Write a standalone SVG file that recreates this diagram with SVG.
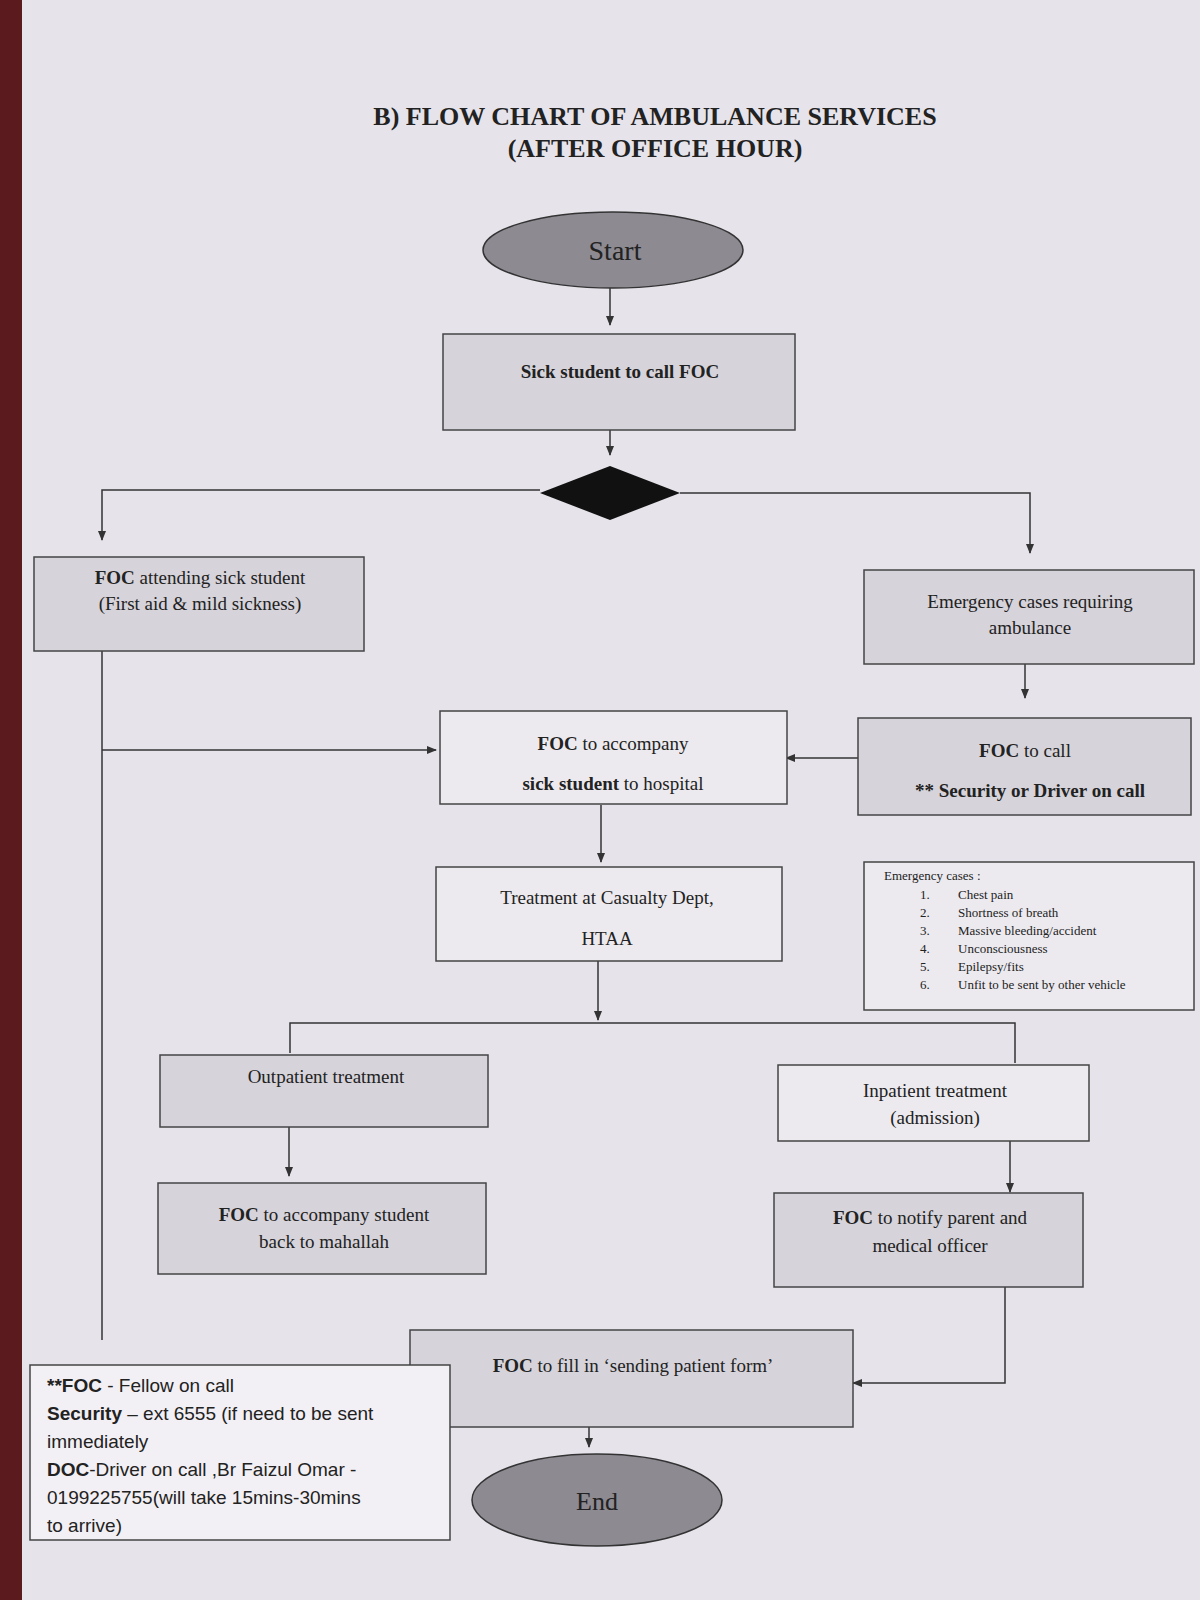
<svg xmlns="http://www.w3.org/2000/svg" width="1200" height="1600" viewBox="0 0 1200 1600">
<defs>
<marker id="ah" markerWidth="10" markerHeight="8" refX="9" refY="4" orient="auto" markerUnits="userSpaceOnUse"><path d="M0,0 L10,4 L0,8 z" fill="#333"/></marker>
<style>
.box{fill:#d6d3da;stroke:#444;stroke-width:1.5}
.wbox{fill:#eceaef;stroke:#444;stroke-width:1.5}
.ell{fill:#8d8a92;stroke:#333;stroke-width:1.5}
.t{font-family:"Liberation Serif",serif;font-size:19px;fill:#222;text-anchor:middle}
.b{font-weight:bold}
.s{font-family:"Liberation Serif",serif;font-size:13px;fill:#222}
.n{font-family:"Liberation Sans",sans-serif;font-size:19px;fill:#222}
.c{fill:none;stroke:#333;stroke-width:1.5}
</style>
</defs>
<rect width="1200" height="1600" fill="#e6e3ea"/>
<rect x="0" y="0" width="22" height="1600" fill="#5a1a1e"/>
<text class="t b" x="655" y="125" style="font-size:26px">B)  FLOW CHART OF AMBULANCE SERVICES</text>
<text class="t b" x="655" y="157" style="font-size:26px">(AFTER OFFICE HOUR)</text>
<g id="connectors">
<path class="c" d="M610,285 V325" marker-end="url(#ah)"/>
<path class="c" d="M610,421 V455" marker-end="url(#ah)"/>
<path class="c" d="M540,490 H102 V540" marker-end="url(#ah)"/>
<path class="c" d="M680,493 H1030 V553" marker-end="url(#ah)"/>
<path class="c" d="M1025,652 V698" marker-end="url(#ah)"/>
<path class="c" d="M858,758 H786" marker-end="url(#ah)"/>
<path class="c" d="M102,650 V1340"/>
<path class="c" d="M102,750 H436" marker-end="url(#ah)"/>
<path class="c" d="M601,805 V862" marker-end="url(#ah)"/>
<path class="c" d="M598,960 V1020" marker-end="url(#ah)"/>
<path class="c" d="M290,1053 V1023 H1015 V1063"/>
<path class="c" d="M289,1126 V1176" marker-end="url(#ah)"/>
<path class="c" d="M1010,1141 V1192" marker-end="url(#ah)"/>
<path class="c" d="M1005,1287 V1383 H853" marker-end="url(#ah)"/>
<path class="c" d="M589,1425 V1447" marker-end="url(#ah)"/>
</g>
<g id="start"><ellipse class="ell" cx="613" cy="250" rx="130" ry="38"/><text class="t" x="615" y="260" style="font-size:28px">Start</text></g>
<g id="sick"><rect class="box" x="443" y="334" width="352" height="96"/><text class="t b" x="620" y="378">Sick student to call FOC</text></g>
<g id="decision"><polygon points="540,493 610,466 680,493 610,520" fill="#111"/></g>
<g id="attend"><rect class="box" x="34" y="557" width="330" height="94"/><text class="t" x="200" y="584"><tspan class="b">FOC</tspan> attending sick student</text><text class="t" x="200" y="610">(First aid &amp; mild sickness)</text></g>
<g id="emerg"><rect class="box" x="864" y="570" width="330" height="94"/><text class="t" x="1030" y="608">Emergency cases requiring</text><text class="t" x="1030" y="634">ambulance</text></g>
<g id="focall"><rect class="box" x="858" y="718" width="333" height="97"/><text class="t b" x="1025" y="757">FOC <tspan font-weight="normal">to call</tspan></text><text class="t b" x="1030" y="797">** Security or Driver on call</text></g>
<g id="accompany"><rect class="wbox" x="440" y="711" width="347" height="93"/><text class="t" x="613" y="750"><tspan class="b">FOC</tspan> to accompany</text><text class="t" x="613" y="790"><tspan class="b">sick student</tspan> to hospital</text></g>
<g id="treat"><rect class="wbox" x="436" y="867" width="346" height="94"/><text class="t" x="607" y="904">Treatment at Casualty Dept,</text><text class="t" x="607" y="945">HTAA</text></g>
<g id="cases"><rect class="wbox" x="864" y="862" width="330" height="148"/>
<text class="s" x="884" y="880">Emergency cases :</text>
<text class="s" x="920" y="899">1.</text><text class="s" x="958" y="899">Chest pain</text>
<text class="s" x="920" y="917">2.</text><text class="s" x="958" y="917">Shortness of breath</text>
<text class="s" x="920" y="935">3.</text><text class="s" x="958" y="935">Massive bleeding/accident</text>
<text class="s" x="920" y="953">4.</text><text class="s" x="958" y="953">Unconsciousness</text>
<text class="s" x="920" y="971">5.</text><text class="s" x="958" y="971">Epilepsy/fits</text>
<text class="s" x="920" y="989">6.</text><text class="s" x="958" y="989">Unfit to be sent by other vehicle</text></g>
<g id="outpatient"><rect class="box" x="160" y="1055" width="328" height="72"/><text class="t" x="326" y="1083">Outpatient treatment</text></g>
<g id="inpatient"><rect class="wbox" x="778" y="1065" width="311" height="76"/><text class="t" x="935" y="1097">Inpatient  treatment</text><text class="t" x="935" y="1124">(admission)</text></g>
<g id="back"><rect class="box" x="158" y="1183" width="328" height="91"/><text class="t b" x="324" y="1221">FOC <tspan font-weight="normal">to accompany student</tspan></text><text class="t" x="324" y="1248">back to mahallah</text></g>
<g id="notify"><rect class="box" x="774" y="1193" width="309" height="94"/><text class="t b" x="930" y="1224">FOC <tspan font-weight="normal">to notify parent and</tspan></text><text class="t" x="930" y="1252">medical officer</text></g>
<g id="fill"><rect class="box" x="410" y="1330" width="443" height="97"/><text class="t" x="633" y="1372"><tspan class="b">FOC</tspan> to fill in ‘sending patient form’</text></g>
<g id="end"><ellipse class="ell" cx="597" cy="1500" rx="125" ry="46"/><text class="t" x="597" y="1510" style="font-size:26px">End</text></g>
<g id="note"><rect x="30" y="1365" width="420" height="175" fill="#f2f0f4" stroke="#444" stroke-width="1.5"/>
<text class="n" x="47" y="1392"><tspan font-weight="bold">**FOC</tspan> - Fellow on call</text>
<text class="n" x="47" y="1420"><tspan font-weight="bold">Security</tspan> – ext 6555 (if need to be sent</text>
<text class="n" x="47" y="1448">immediately</text>
<text class="n" x="47" y="1476"><tspan font-weight="bold">DOC</tspan>-Driver on call ,Br Faizul Omar -</text>
<text class="n" x="47" y="1504">0199225755(will take 15mins-30mins</text>
<text class="n" x="47" y="1532">to arrive)</text></g>
</svg>
